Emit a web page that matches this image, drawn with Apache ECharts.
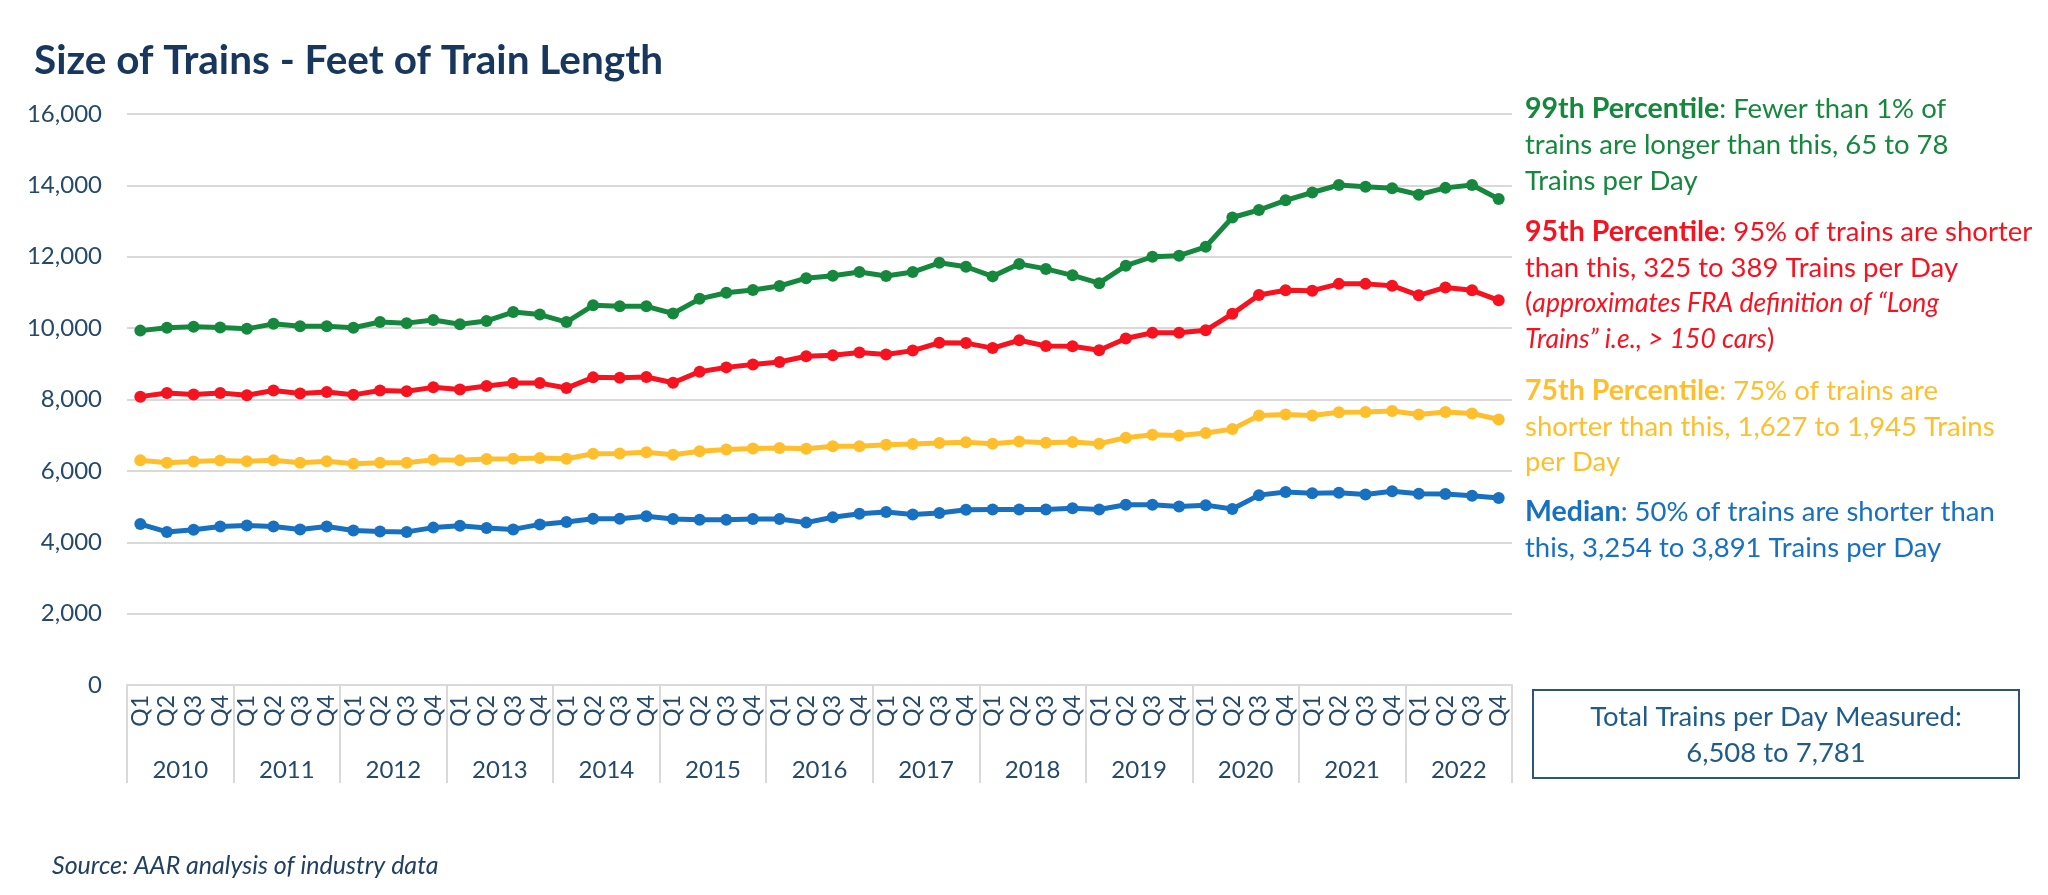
<!DOCTYPE html>
<html>
<head>
<meta charset="utf-8">
<script src="https://cdn.jsdelivr.net/npm/echarts@6/dist/echarts.min.js"></script>
<style>
html,body{margin:0;padding:0;background:#fff;}
#chart{width:2048px;height:895px;}
</style>
</head>
<body>
<div id="chart"></div>
<script>
var years = ['2010','2011','2012','2013','2014','2015','2016','2017','2018','2019','2020','2021','2022'];
var quarterNames = ['Q1','Q2','Q3','Q4'];
var yTicks = [0, 2000, 4000, 6000, 8000, 10000, 12000, 14000, 16000];

var p99 = [9930,10010,10040,10020,9980,10120,10050,10050,10010,10170,10140,10230,10110,10200,10450,10380,10170,10640,10610,10610,
           10410,10820,10990,11070,11180,11400,11470,11570,11460,11570,11830,11720,11450,11800,11660,11480,11260,11750,12000,12030,
           12280,13100,13310,13580,13800,14010,13960,13920,13740,13930,14010,13620];
var p95 = [8080,8180,8140,8180,8120,8250,8170,8210,8130,8250,8230,8340,8280,8380,8460,8460,8320,8620,8610,8630,
           8470,8780,8900,8980,9050,9210,9240,9320,9260,9370,9590,9580,9440,9660,9500,9490,9380,9710,9870,9870,
           9940,10400,10930,11060,11050,11240,11240,11190,10920,11140,11060,10780];
var p75 = [6300,6230,6260,6290,6270,6300,6230,6270,6200,6230,6230,6310,6300,6330,6340,6360,6340,6480,6490,6520,
           6450,6550,6600,6630,6640,6620,6690,6690,6730,6750,6780,6800,6760,6820,6790,6810,6760,6930,7010,6990,
           7060,7170,7550,7580,7550,7640,7650,7680,7580,7650,7610,7440];
var median = [4510,4290,4350,4440,4470,4440,4360,4440,4330,4300,4290,4410,4460,4400,4360,4500,4570,4660,4660,4730,
              4650,4630,4630,4650,4650,4550,4700,4800,4850,4780,4820,4910,4920,4920,4920,4950,4920,5050,5050,5000,
              5040,4930,5320,5410,5370,5390,5340,5430,5360,5350,5300,5240];

var quarters = [];
years.forEach(function(){ quarterNames.forEach(function(q){ quarters.push(q); }); });

var FONT = 'Lato';
var C_GREEN = '#16883E', C_RED = '#F7121F', C_YEL = '#FFBF2C', C_BLUE = '#1770C0';
var AXIS_TXT = '#24496C';

function mkSeries(name, data, color) {
  return {
    name: name, type: 'line', data: data, xAxisIndex: 0,
    symbol: 'circle', symbolSize: 12, showSymbol: true,
    lineStyle: { color: color, width: 5 },
    itemStyle: { color: color },
    emphasis: { disabled: true }
  };
}

function txt(x, y, text, color, rich, extra) {
  var st = {
    text: text, x: 0, y: 0, fill: color,
    font: '27.5px ' + FONT, verticalAlign: 'middle', align: 'left',
    rich: rich || {}
  };
  if (extra) for (var k in extra) st[k] = extra[k];
  return { type: 'text', x: x, y: y, style: st, silent: true };
}
function richFor(color) {
  return {
    b: { fontFamily: FONT, fontSize: 28.5, fontWeight: 'bold', fill: color, color: color },
    n: { fontFamily: FONT, fontSize: 27.5, fill: color, color: color },
    i: { fontFamily: FONT, fontSize: 26.5, fontStyle: 'italic', fill: color, color: color }
  };
}
var rg = richFor(C_GREEN), rr = richFor(C_RED), ry = richFor(C_YEL), rb = richFor(C_BLUE);
var AX = 1525;

var chart = echarts.init(document.getElementById('chart'));
chart.setOption({
  animation: false,
  backgroundColor: '#ffffff',
  title: {
    text: 'Size of Trains - Feet of Train Length',
    left: 29, top: 35,
    textStyle: { fontFamily: FONT, fontSize: 40.5, fontWeight: 'bold', color: '#17375E' }
  },
  grid: { left: 127, right: 536, top: 114, bottom: 210, containLabel: false },
  xAxis: [
    {
      type: 'category', data: quarters, position: 'bottom', boundaryGap: true,
      axisLine: { show: true, lineStyle: { color: '#D9D9D9', width: 2 } },
      axisTick: { show: false },
      axisLabel: { interval: 0, rotate: 90, margin: 10, fontFamily: FONT, fontSize: 23, color: AXIS_TXT },
      splitLine: { show: false }
    },
    {
      type: 'category', data: years, position: 'bottom', boundaryGap: true,
      axisLine: { show: false },
      axisTick: { show: true, interval: 0, length: 98, lineStyle: { color: '#D9D9D9', width: 2 } },
      axisLabel: { interval: 0, margin: 73, fontFamily: FONT, fontSize: 24, color: AXIS_TXT },
      splitLine: { show: false }
    }
  ],
  yAxis: {
    type: 'value', min: yTicks[0], max: yTicks[yTicks.length - 1], interval: 2000,
    axisLine: { show: false }, axisTick: { show: false },
    axisLabel: {
      margin: 25, fontFamily: FONT, fontSize: 24, color: AXIS_TXT,
      formatter: function (v) { return v.toLocaleString('en-US'); }
    },
    splitLine: { show: true, lineStyle: { color: '#D9D9D9', width: 2 } }
  },
  series: [
    mkSeries('99th Percentile', p99, C_GREEN),
    mkSeries('95th Percentile', p95, C_RED),
    mkSeries('75th Percentile', p75, C_YEL),
    mkSeries('Median', median, C_BLUE)
  ],
  graphic: [
    txt(AX, 109, '{b|99th Percentile}{n|: Fewer than 1% of}', C_GREEN, rg),
    txt(AX, 145, '{n|trains are longer than this, 65 to 78}', C_GREEN, rg),
    txt(AX, 181, '{n|Trains per Day}', C_GREEN, rg),
    txt(AX, 232, '{b|95th Percentile}{n|: 95% of trains are shorter}', C_RED, rr),
    txt(AX, 268, '{n|than this, 325 to 389 Trains per Day}', C_RED, rr),
    txt(AX, 303, '{n|(}{i|approximates FRA definition of \u201cLong}', C_RED, rr),
    txt(AX, 339, '{i|Trains\u201d i.e., > 150 cars}{n|)}', C_RED, rr),
    txt(AX, 391, '{b|75th Percentile}{n|: 75% of trains are}', C_YEL, ry),
    txt(AX, 427, '{n|shorter than this, 1,627 to 1,945 Trains}', C_YEL, ry),
    txt(AX, 462, '{n|per Day}', C_YEL, ry),
    txt(AX, 512, '{b|Median}{n|: 50% of trains are shorter than}', C_BLUE, rb),
    txt(AX, 548, '{n|this, 3,254 to 3,891 Trains per Day}', C_BLUE, rb),
    {
      type: 'rect', shape: { x: 1533, y: 690, width: 486, height: 88 },
      style: { fill: 'none', stroke: '#2B5579', lineWidth: 2 }, silent: true
    },
    txt(1776, 717, 'Total Trains per Day Measured:', '#1F5C8A', null, { align: 'center' }),
    txt(1776, 753, '6,508 to 7,781', '#1F5C8A', null, { align: 'center' }),
    txt(52, 866, 'Source: AAR analysis of industry data', '#1F3F63', null, { font: 'italic 25px ' + FONT })
  ]
});
</script>
</body>
</html>
